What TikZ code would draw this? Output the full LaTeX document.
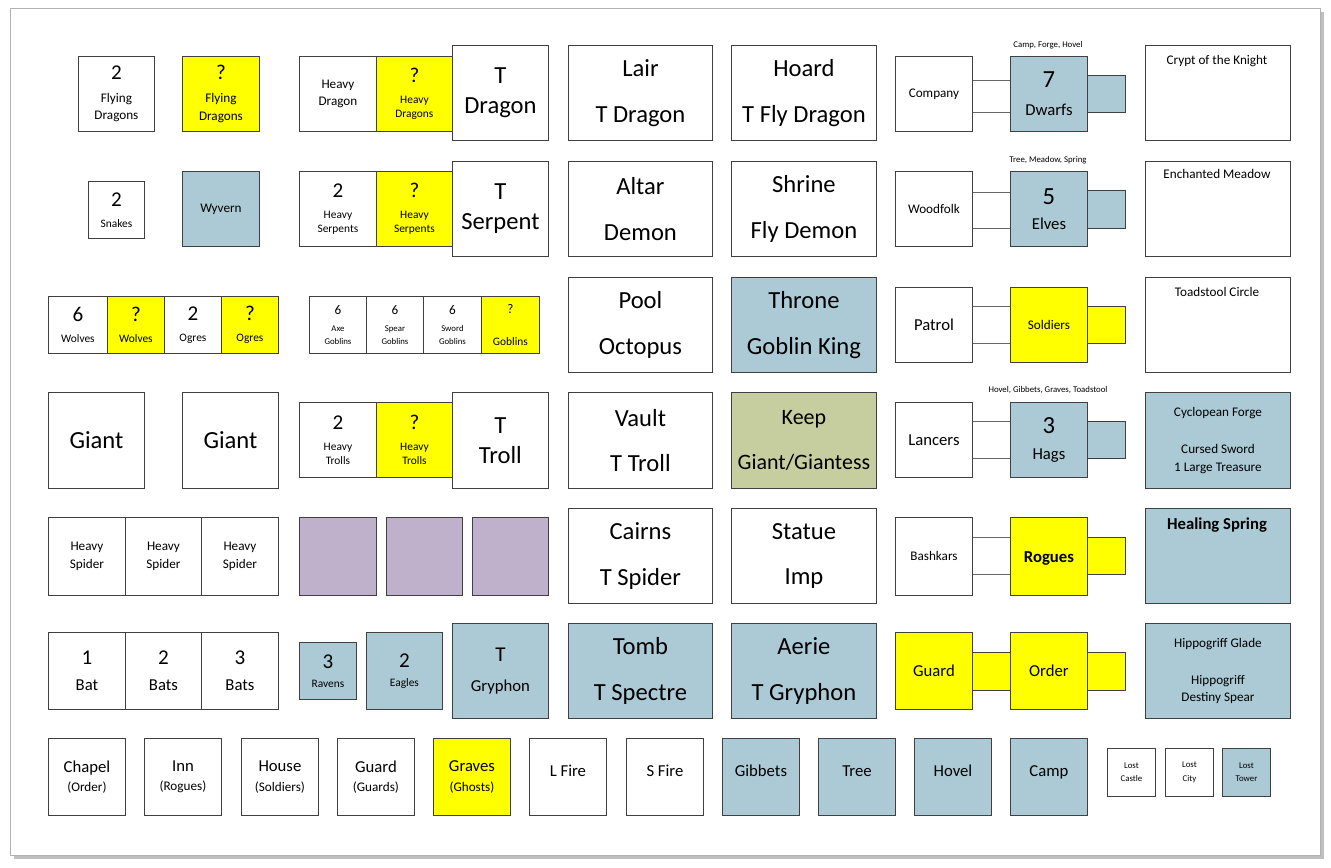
\documentclass[tikz,border=0pt]{standalone}
\usepackage{fontspec}
\setmainfont{Carlito}
\newcommand\fA{\fontsize{14}{16}\selectfont}
\newcommand\fK{\fontsize{12.5}{16}\selectfont}
\newcommand\fB{\fontsize{12}{13}\selectfont}
\newcommand\fM{\fontsize{9.5}{11}\selectfont}
\newcommand\fC{\fontsize{7.5}{10}\selectfont}
\newcommand\fS{\fontsize{6.5}{8}\selectfont}
\newcommand\fT{\fontsize{5}{7.5}\selectfont}
\definecolor{bl}{HTML}{ABCAD5}
\definecolor{ye}{HTML}{FFFF00}
\definecolor{pu}{HTML}{BFB1CB}
\definecolor{ol}{HTML}{C6CD9E}
\newcommand\bx[7]{\node[box,#6,minimum width={(#4-#2)*0.02cm},minimum height={(#5-#3)*0.02cm},anchor=north west] (#1) at (#2,#3) {#7};}
\begin{document}
\begin{tikzpicture}[x=0.02cm,y=-0.02cm,
  box/.style={draw=black!75,fill=white,line width=0.5pt,align=center,inner sep=0pt},
  W/.style={fill=white}, Y/.style={fill=ye}, L/.style={fill=bl},
  lnk/.style={draw=black!60,line width=0.5pt},
  lab/.style={font=\fT,inner sep=0pt}]
\useasboundingbox (0,0) rectangle (1331,867);
\fill[black!25] (14,12) rectangle (1324,859);
\draw[black!30,fill=white] (10,8) rectangle (1320,855);
% row 1
\bx{a1}{78}{56}{154}{131}{W,font=\fC}{{\fB 2}\\[3pt]Flying\\Dragons}
\bx{a2}{182}{56}{259}{131}{Y,font=\fC}{{\fB ?}\\[3pt]Flying\\Dragons}
\bx{a3}{299}{56}{376}{131}{W,font=\fC}{Heavy\\Dragon}
\bx{a4}{376}{56}{452}{131}{Y,font=\fS}{{\fB ?}\\[4pt]Heavy\\Dragons}
\bx{a5}{452}{45}{548}{140}{W,font=\fA}{T\\[1pt]Dragon}
\bx{a6}{568}{45}{712}{140}{W,font=\fA}{Lair\\[10pt]T Dragon}
\bx{a7}{731}{45}{876}{140}{W,font=\fA}{Hoard\\[10pt]T Fly Dragon}
\bx{a8}{895}{56}{972}{131}{W,font=\fC}{Company}
\bx{a9}{1010}{56}{1087}{131}{L,font=\fM}{{\fA 7}\\[5pt]Dwarfs}
\bx{a10}{1087}{75}{1125}{112}{L}{}
\node[lab] (l1) at (1048,45) {Camp, Forge, Hovel};
\bx{a11}{1145}{45}{1290}{140}{W}{}
\node[font=\fC,anchor=north,inner sep=0pt] (t1) at (1217,55) {Crypt of the Knight};
% row 2
\bx{b1}{88}{181}{144}{238}{W,font=\fS}{{\fB 2}\\[4pt]Snakes}
\bx{b2}{182}{171}{259}{246}{L,font=\fC}{Wyvern}
\bx{b3}{299}{171}{376}{246}{W,font=\fS}{{\fB 2}\\[4pt]Heavy\\Serpents}
\bx{b4}{376}{171}{452}{246}{Y,font=\fS}{{\fB ?}\\[4pt]Heavy\\Serpents}
\bx{b5}{452}{161}{548}{256}{W,font=\fA}{T\\[1pt]Serpent}
\bx{b6}{568}{161}{712}{256}{W,font=\fA}{Altar\\[10pt]Demon}
\bx{b7}{731}{161}{876}{256}{W,font=\fA}{Shrine\\[10pt]Fly Demon}
\bx{b8}{895}{171}{972}{246}{W,font=\fC}{Woodfolk}
\bx{b9}{1010}{171}{1087}{246}{L,font=\fM}{{\fA 5}\\[3pt]Elves}
\bx{b10}{1087}{190}{1125}{228}{L}{}
\node[lab] (l2) at (1048,160) {Tree, Meadow, Spring};
\bx{b11}{1145}{161}{1290}{256}{W}{}
\node[font=\fC,anchor=north,inner sep=0pt] (t2) at (1217,169) {Enchanted Meadow};
% row 3
\bx{c1}{48}{296}{107}{353}{W,font=\fS}{{\fB 6}\\[4pt]Wolves}
\bx{c2}{107}{296}{164}{353}{Y,font=\fS}{{\fB ?}\\[4pt]Wolves}
\bx{c3}{164}{296}{221}{353}{W,font=\fS}{{\fB 2}\\[4pt]Ogres}
\bx{c4}{221}{296}{278}{353}{Y,font=\fS}{{\fB ?}\\[4pt]Ogres}
\bx{c5}{309}{296}{366}{353}{W,font=\fT}{{\fC 6}\\[2pt]Axe\\Goblins}
\bx{c6}{366}{296}{423}{353}{W,font=\fT}{{\fC 6}\\[2pt]Spear\\Goblins}
\bx{c7}{423}{296}{481}{353}{W,font=\fT}{{\fC 6}\\[2pt]Sword\\Goblins}
\bx{c8}{481}{296}{539}{353}{Y,font=\fS}{{\fC ?}\\[10pt]Goblins}
\bx{c9}{568}{277}{712}{372}{W,font=\fA}{Pool\\[10pt]Octopus}
\bx{c10}{731}{277}{876}{372}{L,font=\fA}{Throne\\[10pt]Goblin King}
\bx{c11}{895}{287}{972}{362}{W,font=\fM}{Patrol}
\bx{c12}{1010}{287}{1087}{362}{Y,font=\fC}{Soldiers}
\bx{c13}{1087}{306}{1125}{343}{Y}{}
\bx{c14}{1145}{277}{1290}{372}{W}{}
\node[font=\fC,anchor=north,inner sep=0pt] (t3) at (1217,287) {Toadstool Circle};
% row 4
\bx{d1}{48}{392}{144}{488}{W,font=\fA}{Giant}
\bx{d2}{182}{392}{278}{488}{W,font=\fA}{Giant}
\bx{d3}{299}{402}{376}{477}{W,font=\fS}{{\fB 2}\\[4pt]Heavy\\Trolls}
\bx{d4}{376}{402}{452}{477}{Y,font=\fS}{{\fB ?}\\[4pt]Heavy\\Trolls}
\bx{d5}{452}{392}{548}{488}{W,font=\fA}{T\\[1pt]Troll}
\bx{d6}{568}{392}{712}{488}{W,font=\fA}{Vault\\[10pt]T Troll}
\bx{d7}{731}{392}{876}{488}{fill=ol,font=\fK}{Keep\\[10pt]Giant/Giantess}
\bx{d8}{895}{402}{972}{477}{W,font=\fM}{Lancers}
\bx{d9}{1010}{402}{1087}{477}{L,font=\fM}{{\fA 3}\\[4pt]Hags}
\bx{d10}{1087}{421}{1125}{458}{L}{}
\node[lab] (l4) at (1048,390) {Hovel, Gibbets, Graves, Toadstool};
\bx{d11}{1145}{392}{1290}{488}{L,font=\fC}{Cyclopean Forge\\[11pt]Cursed Sword\\1 Large Treasure}
% row 5
\bx{e1}{48}{517}{125}{595}{W,font=\fC}{Heavy\\Spider}
\bx{e2}{125}{517}{201}{595}{W,font=\fC}{Heavy\\Spider}
\bx{e3}{201}{517}{278}{595}{W,font=\fC}{Heavy\\Spider}
\bx{e4}{299}{517}{376}{595}{fill=pu}{}
\bx{e5}{386}{517}{462}{595}{fill=pu}{}
\bx{e6}{472}{517}{548}{595}{fill=pu}{}
\bx{e7}{568}{508}{712}{603}{W,font=\fA}{Cairns\\[10pt]T Spider}
\bx{e8}{731}{508}{876}{603}{W,font=\fA}{Statue\\[10pt]Imp}
\bx{e9}{895}{517}{972}{595}{W,font=\fC}{Bashkars}
\bx{e10}{1010}{517}{1087}{595}{Y,font=\fM\bfseries}{\raisebox{-8pt}{Rogues}}
\bx{e11}{1087}{537}{1125}{574}{Y}{}
\bx{e12}{1145}{508}{1290}{603}{L}{}
\node[font=\fM\bfseries,anchor=north,inner sep=0pt] (t5) at (1217,517) {Healing Spring};
% row 6
\bx{f1}{48}{632}{125}{709}{W,font=\fM}{{\fB 1}\\[4pt]Bat}
\bx{f2}{125}{632}{201}{709}{W,font=\fM}{{\fB 2}\\[4pt]Bats}
\bx{f3}{201}{632}{278}{709}{W,font=\fM}{{\fB 3}\\[4pt]Bats}
\bx{f4}{299}{642}{356}{699}{L,font=\fS}{{\fB 3}\\[3pt]Ravens}
\bx{f5}{366}{632}{442}{709}{L,font=\fS}{{\fB 2}\\[3pt]Eagles}
\bx{f6}{452}{623}{548}{718}{L,font=\fM}{{\fB T}\\[6pt]Gryphon}
\bx{f7}{568}{623}{712}{718}{L,font=\fA}{Tomb\\[10pt]T Spectre}
\bx{f8}{731}{623}{876}{718}{L,font=\fA}{Aerie\\[10pt]T Gryphon}
\bx{f9}{895}{632}{972}{709}{Y,font=\fM}{Guard}
\bx{f10}{972}{652}{1010}{690}{Y}{}
\bx{f11}{1010}{632}{1087}{709}{Y,font=\fM}{Order}
\bx{f12}{1087}{652}{1125}{690}{Y}{}
\bx{f13}{1145}{623}{1290}{718}{L,font=\fC}{Hippogriff Glade\\[11pt]Hippogriff\\Destiny Spear}
% row 7
\bx{g1}{48}{738}{125}{815}{W,font=\fC}{{\fM Chapel}\\[1pt](Order)}
\bx{g2}{144}{738}{221}{815}{W,font=\fC}{{\fM Inn}\\[1pt](Rogues)}
\bx{g3}{241}{738}{318}{815}{W,font=\fC}{{\fM House}\\[1pt](Soldiers)}
\bx{g4}{337}{738}{414}{815}{W,font=\fC}{{\fM Guard}\\[1pt](Guards)}
\bx{g5}{433}{738}{510}{815}{Y,font=\fC}{{\fM Graves}\\[1pt](Ghosts)}
\bx{g6}{529}{738}{606}{815}{W,font=\fM}{\raisebox{7pt}{L Fire}}
\bx{g7}{626}{738}{703}{815}{W,font=\fM}{\raisebox{7pt}{S Fire}}
\bx{g8}{722}{738}{799}{815}{L,font=\fM}{\raisebox{7pt}{Gibbets}}
\bx{g9}{818}{738}{895}{815}{L,font=\fM}{\raisebox{7pt}{Tree}}
\bx{g10}{914}{738}{991}{815}{L,font=\fM}{\raisebox{7pt}{Hovel}}
\bx{g11}{1010}{738}{1087}{815}{L,font=\fM}{\raisebox{7pt}{Camp}}
\bx{g12}{1107}{748}{1155}{796}{W,font=\fT}{Lost\\Castle}
\bx{g13}{1165}{748}{1213}{796}{W,font=\fT}{Lost\\City}
\bx{g14}{1222}{748}{1270}{796}{L,font=\fT}{Lost\\Tower}
% connectors
\foreach \s/\t/\ya/\yb in {a8/a9/80/112, b8/b9/192/228, c11/c12/306/343, d8/d9/421/458, e9/e10/537/574}{
  \draw[lnk] (\s.east |- 0,\ya) -- (\t.west |- 0,\ya);
  \draw[lnk] (\s.east |- 0,\yb) -- (\t.west |- 0,\yb);
}
\end{tikzpicture}
\end{document}
